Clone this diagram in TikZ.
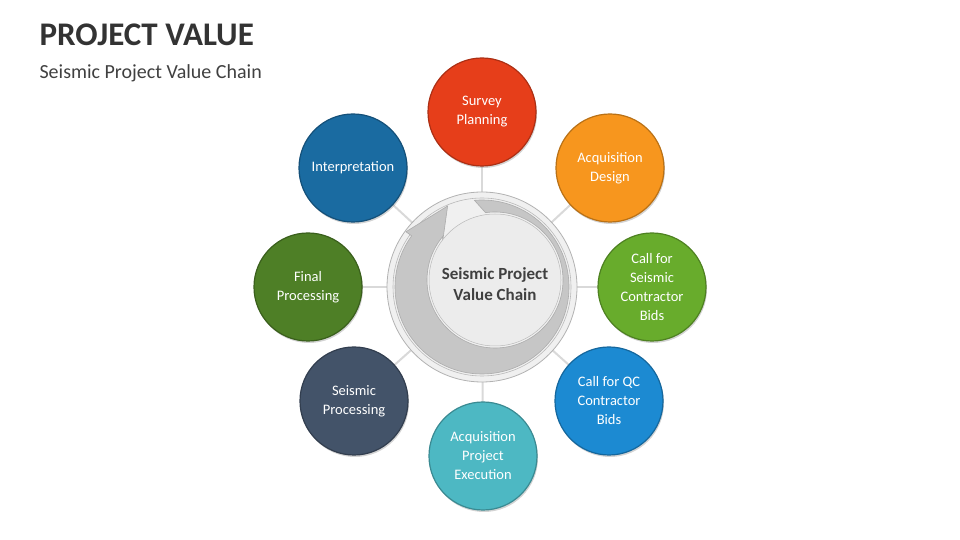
\documentclass[tikz,border=0pt]{standalone}
\usepackage{fontspec}
\setmainfont{Carlito}
\usetikzlibrary{calc,shadows}
\definecolor{cA}{HTML}{E63E1A}
\definecolor{cB}{HTML}{F7961E}
\definecolor{cC}{HTML}{68AC2C}
\definecolor{cD}{HTML}{1C8AD2}
\definecolor{cE}{HTML}{4DB8C3}
\definecolor{cF}{HTML}{435369}
\definecolor{cG}{HTML}{4E7F26}
\definecolor{cH}{HTML}{1A6BA1}
\tikzset{
 sat/.style={circle,minimum size=108pt,inner sep=0pt,align=center,text=white,font=\fontsize{14.5}{19}\selectfont,fill=#1,draw=#1!75!black,line width=1.2pt,drop shadow={opacity=0.35,shadow xshift=1pt,shadow yshift=-2pt}},
 spoke/.style={draw=gray!30,line width=2pt}
}
\begin{document}
\begin{tikzpicture}[x=1pt,y=1pt]
\useasboundingbox (0,0) rectangle (960,540);
\node[anchor=west,font=\fontsize{33}{36}\selectfont\bfseries,text=black!80] (title) at (36,505) {PROJECT VALUE};
\node[anchor=west,font=\fontsize{20}{24}\selectfont,text=black!75] (sub) at (36,467) {Seismic Project Value Chain};
\coordinate (C1) at (482,253);
\coordinate (C2) at (495,260);
\foreach \n/\x/\y in {a/482/428, b/610/372, c/652/253, d/609/139, e/483/84, f/354/139, g/308/253, h/353/372}{
  \coordinate (\n) at (\x,\y);
  \draw[spoke] (C1) -- (\n);
}
\fill[gray!12,draw=gray!60,line width=0.8pt] (C1) circle[radius=95];
\draw[gray!55,line width=0.6pt] (C1) circle[radius=89];
\fill[gray!45,draw=gray!65,line width=0.6pt]
 ($(C1)+(95:87)$) arc[start angle=95,end angle=-216,radius=87]
 -- ($(C1)+(144:94)$) -- ($(C1)+(113:88)$) -- ($(C1)+(136:56)$)
 -- ($(C2)+(-220:68)$) arc[start angle=-220,end angle=98,radius=68] -- cycle;
\fill[gray!15,draw=gray!55,line width=0.5pt] (C2) circle[radius=66];
\node[align=center,font=\fontsize{17}{21}\selectfont\bfseries,text=black!75] (center) at (495,256) {Seismic Project\\Value Chain};
\node[sat=cA] (na) at (a) {Survey\\Planning};
\node[sat=cB] (nb) at (b) {Acquisition\\Design};
\node[sat=cC] (nc) at (c) {Call for\\Seismic\\Contractor\\Bids};
\node[sat=cD] (nd) at (d) {Call for QC\\Contractor\\Bids};
\node[sat=cE] (ne) at (e) {Acquisition\\Project\\Execution};
\node[sat=cF] (nf) at (f) {Seismic\\Processing};
\node[sat=cG] (ng) at (g) {Final\\Processing};
\node[sat=cH] (nh) at (h) {Interpretation};
\end{tikzpicture}
\end{document}
